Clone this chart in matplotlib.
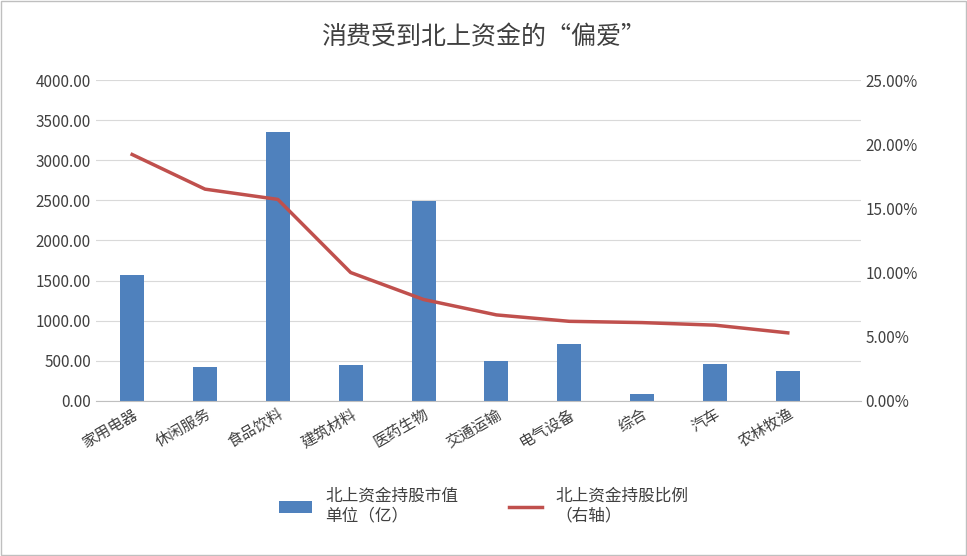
import numpy as np
import matplotlib.pyplot as plt
from matplotlib.ticker import FuncFormatter

plt.rcParams['font.family'] = ['Noto Sans CJK SC', 'DejaVu Sans']

categories = ['家用电器', '休闲服务', '食品饮料', '建筑材料', '医药生物',
              '交通运输', '电气设备', '综合', '汽车', '农林牧渔']
market_value = [1570, 420, 3350, 450, 2490, 500, 710, 90, 460, 370]
hold_ratio = [19.2, 16.5, 15.7, 10.0, 7.9, 6.7, 6.2, 6.1, 5.9, 5.3]

fig = plt.figure(figsize=(9.67, 5.56), dpi=100)
ax = fig.add_axes([0.099, 0.279, 0.791, 0.577])
ax2 = ax.twinx()

x = np.arange(len(categories))
bars = ax.bar(x, market_value, width=0.33, color='#4F81BD', label='北上资金持股市值\n单位（亿）', zorder=2)
line, = ax2.plot(x, hold_ratio, color='#C0504D', linewidth=2.5, label='北上资金持股比例\n（右轴）', zorder=3)

ax.set_xlim(-0.5, len(categories))
ax.set_ylim(0, 4000)
ax.set_yticks(np.arange(0, 4001, 500))
ax.yaxis.set_major_formatter(FuncFormatter(lambda v, p: f'{v:.2f}'))
ax2.set_ylim(0, 25)
ax2.set_yticks(np.arange(0, 26, 5))
ax2.yaxis.set_major_formatter(FuncFormatter(lambda v, p: f'{v:.2f}%'))

ax.grid(axis='y', color='#D9D9D9', linewidth=0.8, zorder=0)
ax.set_xticks(x)
ax.set_xticklabels(categories, rotation=30, ha='right', rotation_mode='anchor', fontsize=12, color='#404040')
for a in (ax, ax2):
    for s in ('top', 'left', 'right'):
        a.spines[s].set_visible(False)
    a.tick_params(length=0, labelsize=11, colors='#404040')
ax.spines['bottom'].set_color('#BFBFBF')
ax2.spines['bottom'].set_visible(False)

fig.suptitle('消费受到北上资金的“偏爱”', y=0.955, fontsize=18, color='#404040')
fig.legend(handles=[bars, line], loc='lower center', bbox_to_anchor=(0.5, 0.03),
           ncol=2, frameon=False, fontsize=12, labelcolor='#404040', columnspacing=3)

fig.patches.append(plt.Rectangle((0.001, 0.001), 0.998, 0.998, transform=fig.transFigure,
                                 fill=False, edgecolor='#BFBFBF', linewidth=1))
fig.savefig('out.png', dpi=100)
